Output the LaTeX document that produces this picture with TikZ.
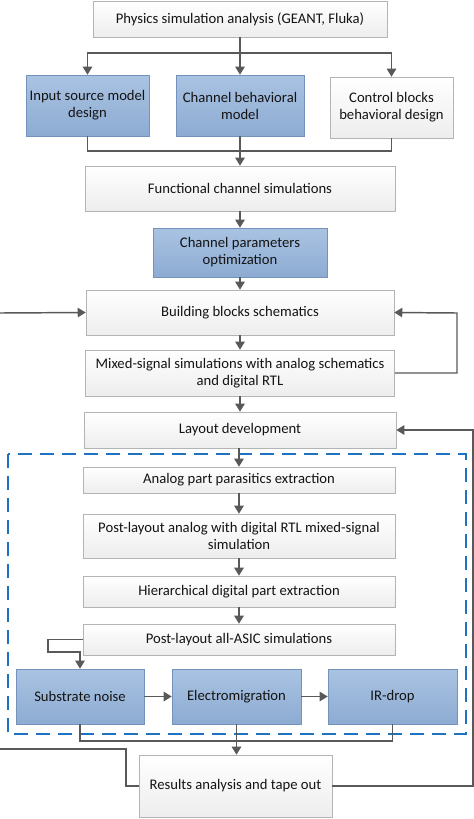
\documentclass[tikz,border=0pt]{standalone}
\usepackage{fontspec}
\setmainfont{Carlito}
\usetikzlibrary{arrows.meta}
\definecolor{lineg}{HTML}{595959}
\definecolor{edgeg}{HTML}{B4B4B4}
\definecolor{blueA}{HTML}{A9C3E2}
\definecolor{blueB}{HTML}{8DABD2}
\definecolor{blueE}{HTML}{7393BC}
\definecolor{dashb}{HTML}{1F72C0}
\begin{document}
\begin{tikzpicture}
[x=0.75pt,y=-0.75pt,
 block/.style={rectangle,draw=edgeg,top color=white,bottom color=gray!14,align=center,inner sep=2pt,
   font=\fontsize{11}{12.75}\selectfont,text=black!92},
 bblock/.style={block,draw=blueE,top color=blueA,bottom color=blueB},
 sz/.style 2 args={minimum width=#1*0.75pt,minimum height=#2*0.75pt},
 link/.style={draw=lineg,line width=1.1pt,-{Triangle[length=6pt,width=7pt]}},
 wire/.style={draw=lineg,line width=1.1pt}]
\useasboundingbox (0,0) rectangle (474,819);
% design stage
\node[block, sz={294}{36}] (phys) at (240,19) {Physics simulation analysis (GEANT, Fluka)};
\node[bblock, sz={123}{61}] (inp) at (87.5,105.5) {Input source model\\design};
\node[bblock, sz={128}{61}] (chb) at (240,105.5) {Channel behavioral\\model};
\node[block, sz={123}{61}] (ctl) at (391.5,107.5) {Control blocks\\behavioral design};
\node[block, sz={310}{45}] (func) at (240,188.5) {Functional channel simulations};
\node[bblock, sz={174}{49}] (cpo) at (240,252.5) {Channel parameters\\optimization};
\node[block, sz={308}{45}] (bbs) at (240,312.5) {Building blocks schematics};
\node[block, sz={309}{46}] (mix) at (240,373) {Mixed-signal simulations with analog schematics\\and digital RTL};
\node[block, sz={312}{36}] (lay) at (240,430) {Layout development};
% verification stage
\draw[dashb, line width=1.8pt, dash pattern=on 10.5pt off 6pt] (8,454) rectangle (466,734);
\node[block, sz={312}{26}] (apx) at (239,480) {Analog part parasitics extraction};
\node[block, sz={312}{44}] (pla) at (239,536) {Post-layout analog with digital RTL mixed-signal\\simulation};
\node[block, sz={312}{31}] (hdx) at (239,591.5) {Hierarchical digital part extraction};
\node[block, sz={312}{31}] (pas) at (239,639.5) {Post-layout all-ASIC simulations};
\node[bblock, sz={128}{55}] (sub) at (80,696.5) {Substrate noise};
\node[bblock, sz={129}{55}] (elm) at (236.5,696.5) {Electromigration};
\node[bblock, sz={129}{55}] (ird) at (392.5,696.5) {IR-drop};
\node[block, sz={193}{62}] (res) at (235.5,786) {Results analysis and tape out};
% junctions and loop corners
\coordinate (split) at (240,53);
\coordinate (merge) at (240,151);
\coordinate (lin) at (0,313);
\coordinate (rloop) at (457,313);
\coordinate (rout) at (473,430);
\coordinate (pk) at (48,652);
\coordinate (bm) at (236.5,741);
\coordinate (lbend) at (126,749);
\coordinate (lout) at (0,749);
% connectors
\draw[link] (phys) -- (chb);
\draw[link] (split) -| (inp.north);
\draw[link] (split) -| (ctl.north);
\draw[wire] (inp.south) |- (merge) -| (ctl.south);
\draw[link] (chb) -- (func);
\draw[link] (func) -- (cpo);
\draw[link] (cpo) -- (bbs);
\draw[link] (bbs) -- (mix);
\draw[link] (mix) -- (lay);
\draw[link] (lin) -- (bbs.west);
\draw[link] (mix.east) -| (rloop) -- (bbs.east);
\draw[link] (lay.south -| apx.north) -- (apx.north);
\draw[link] (apx) -- (pla);
\draw[link] (pla) -- (hdx);
\draw[link] (hdx) -- (pas);
\draw[link] (pas.west) -| (pk) -| (sub.north);
\draw[link] (sub) -- (elm);
\draw[link] (elm) -- (ird);
\draw[wire] (sub.south) |- (bm) -| (ird.south);
\draw[link] (elm.south) -- (elm.south |- res.north);
\draw[wire] (res.west) -| (lbend) -- (lout);
\draw[link] (res.east) -| (rout) -- (lay.east);
\end{tikzpicture}
\end{document}
